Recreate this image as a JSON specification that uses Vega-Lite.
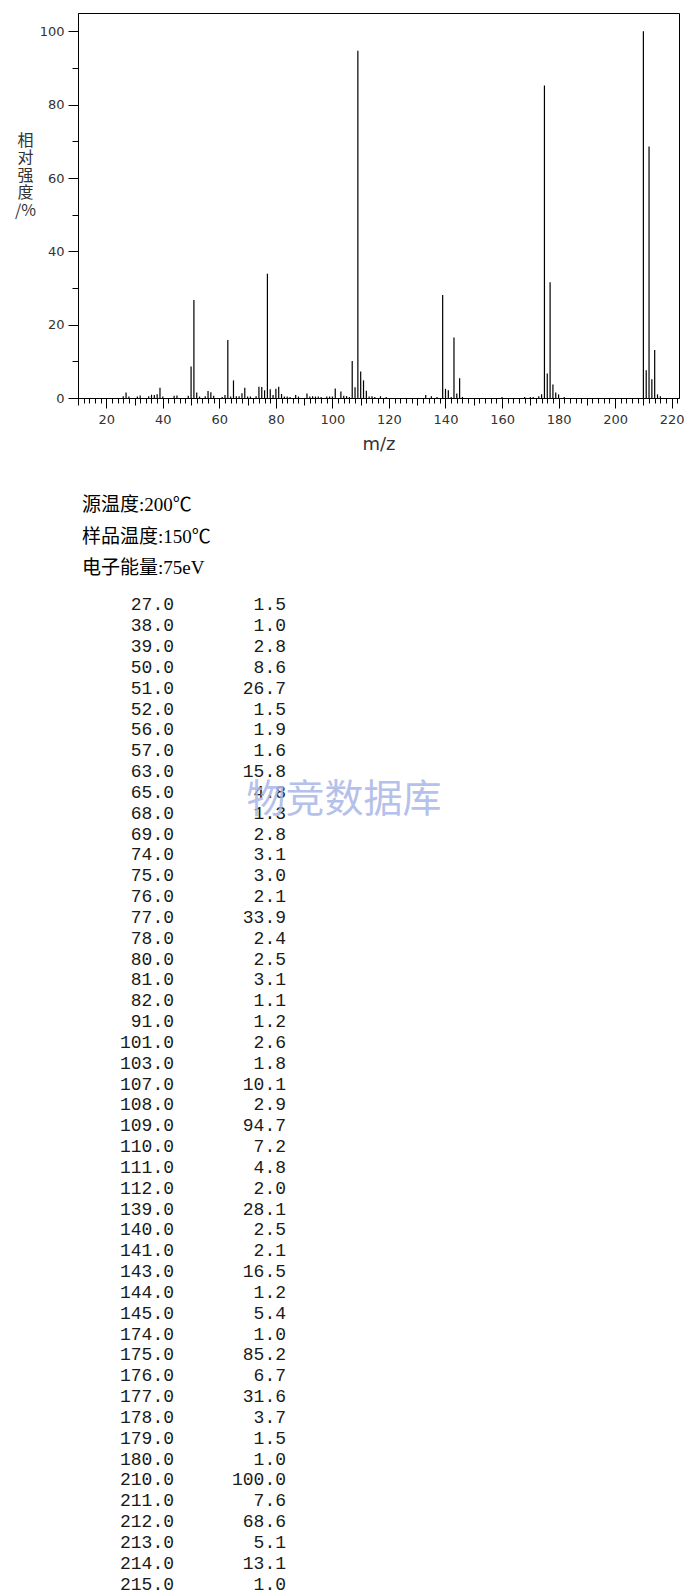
{
  "$schema": "https://vega.github.io/schema/vega-lite/v6.json",
  "background": "#ffffff",
  "padding": {"left": 13, "top": 12, "right": 0, "bottom": 0},
  "spacing": 42,
  "datasets": {
    "peaks": [
      {"mz": 26, "intensity": 0.5}, {"mz": 27, "intensity": 1.5}, {"mz": 28, "intensity": 0.4},
      {"mz": 31, "intensity": 0.4}, {"mz": 32, "intensity": 0.7}, {"mz": 35, "intensity": 0.5},
      {"mz": 36, "intensity": 0.9}, {"mz": 37, "intensity": 0.8}, {"mz": 38, "intensity": 1.0},
      {"mz": 39, "intensity": 2.8}, {"mz": 40, "intensity": 0.4}, {"mz": 44, "intensity": 0.6},
      {"mz": 45, "intensity": 0.7}, {"mz": 49, "intensity": 0.6}, {"mz": 50, "intensity": 8.6},
      {"mz": 51, "intensity": 26.7}, {"mz": 52, "intensity": 1.5}, {"mz": 53, "intensity": 0.4},
      {"mz": 55, "intensity": 0.5}, {"mz": 56, "intensity": 1.9}, {"mz": 57, "intensity": 1.6},
      {"mz": 58, "intensity": 0.6}, {"mz": 61, "intensity": 0.3}, {"mz": 62, "intensity": 0.8},
      {"mz": 63, "intensity": 15.8}, {"mz": 64, "intensity": 0.4}, {"mz": 65, "intensity": 4.8},
      {"mz": 66, "intensity": 0.5}, {"mz": 67, "intensity": 0.5}, {"mz": 68, "intensity": 1.3},
      {"mz": 69, "intensity": 2.8}, {"mz": 70, "intensity": 0.4}, {"mz": 71, "intensity": 0.4},
      {"mz": 73, "intensity": 0.5}, {"mz": 74, "intensity": 3.1}, {"mz": 75, "intensity": 3.0},
      {"mz": 76, "intensity": 2.1}, {"mz": 77, "intensity": 33.9}, {"mz": 78, "intensity": 2.4},
      {"mz": 79, "intensity": 0.8}, {"mz": 80, "intensity": 2.5}, {"mz": 81, "intensity": 3.1},
      {"mz": 82, "intensity": 1.1}, {"mz": 83, "intensity": 0.4}, {"mz": 84, "intensity": 0.4},
      {"mz": 85, "intensity": 0.3}, {"mz": 87, "intensity": 0.8}, {"mz": 88, "intensity": 0.4},
      {"mz": 91, "intensity": 1.2}, {"mz": 92, "intensity": 0.4}, {"mz": 93, "intensity": 0.5},
      {"mz": 94, "intensity": 0.4}, {"mz": 95, "intensity": 0.4}, {"mz": 96, "intensity": 0.3},
      {"mz": 98, "intensity": 0.4}, {"mz": 99, "intensity": 0.4}, {"mz": 100, "intensity": 0.4},
      {"mz": 101, "intensity": 2.6}, {"mz": 103, "intensity": 1.8}, {"mz": 104, "intensity": 0.6},
      {"mz": 105, "intensity": 0.5}, {"mz": 106, "intensity": 0.3}, {"mz": 107, "intensity": 10.1},
      {"mz": 108, "intensity": 2.9}, {"mz": 109, "intensity": 94.7}, {"mz": 110, "intensity": 7.2},
      {"mz": 111, "intensity": 4.8}, {"mz": 112, "intensity": 2.0}, {"mz": 113, "intensity": 0.4},
      {"mz": 114, "intensity": 0.5}, {"mz": 115, "intensity": 0.3}, {"mz": 117, "intensity": 0.5},
      {"mz": 119, "intensity": 0.3}, {"mz": 133, "intensity": 0.8}, {"mz": 135, "intensity": 0.5},
      {"mz": 137, "intensity": 0.3}, {"mz": 139, "intensity": 28.1}, {"mz": 140, "intensity": 2.5},
      {"mz": 141, "intensity": 2.1}, {"mz": 142, "intensity": 0.3}, {"mz": 143, "intensity": 16.5},
      {"mz": 144, "intensity": 1.2}, {"mz": 145, "intensity": 5.4}, {"mz": 146, "intensity": 0.3},
      {"mz": 160, "intensity": 0.3}, {"mz": 168, "intensity": 0.3}, {"mz": 170, "intensity": 0.3},
      {"mz": 171, "intensity": 0.3}, {"mz": 173, "intensity": 0.5}, {"mz": 174, "intensity": 1.0},
      {"mz": 175, "intensity": 85.2}, {"mz": 176, "intensity": 6.7}, {"mz": 177, "intensity": 31.6},
      {"mz": 178, "intensity": 3.7}, {"mz": 179, "intensity": 1.5}, {"mz": 180, "intensity": 1.0},
      {"mz": 182, "intensity": 0.3}, {"mz": 210, "intensity": 100.0}, {"mz": 211, "intensity": 7.6},
      {"mz": 212, "intensity": 68.6}, {"mz": 213, "intensity": 5.1}, {"mz": 214, "intensity": 13.1},
      {"mz": 215, "intensity": 1.0}, {"mz": 216, "intensity": 0.5}
    ],
    "watermark": [{"label": "物竞数据库", "mz": 65}]
  },
  "vconcat": [
    {
      "width": 601,
      "height": 385,
      "data": {"name": "peaks"},
      "layer": [
        {
          "mark": {"type": "rule", "color": "#000", "strokeWidth": 1.2},
          "encoding": {
            "x": {
              "field": "mz", "type": "quantitative",
              "scale": {"domain": [10, 222.6], "nice": false, "zero": false},
              "axis": {
                "orient": "bottom",
                "values": [20, 40, 60, 80, 100, 120, 140, 160, 180, 200, 220],
                "tickSize": 10, "labelPadding": 5, "domain": true,
                "title": "m/z", "titlePadding": 9, "titleFontSize": 18,
                "titleFont": "DejaVu Sans", "titleColor": "#333", "titleFontWeight": "normal"
              }
            },
            "y": {
              "field": "intensity", "type": "quantitative",
              "scale": {"domain": [0, 105], "nice": false},
              "axis": {
                "orient": "left",
                "values": [0, 20, 40, 60, 80, 100],
                "tickSize": 10, "labelPadding": 4, "domain": true,
                "title": ["相", "对", "强", "度", "/%"],
                "titleAngle": 0, "titleAlign": "center", "titleBaseline": "top",
                "titleX": -53, "titleY": 119, "titleLineHeight": 17.5,
                "titleFont": "Noto Sans CJK SC", "titleFontSize": 16,
                "titleColor": "#333", "titleFontWeight": "normal"
              }
            },
            "y2": {"datum": 0}
          }
        },
        {
          "mark": {"type": "rule", "opacity": 0},
          "encoding": {
            "x": {
              "field": "mz", "type": "quantitative",
              "axis": {
                "orient": "bottom",
                "values": [10,12,14,16,18,20,22,24,26,28,30,32,34,36,38,40,42,44,46,48,50,52,54,56,58,60,62,64,66,68,70,72,74,76,78,80,82,84,86,88,90,92,94,96,98,100,102,104,106,108,110,112,114,116,118,120,122,124,126,128,130,132,134,136,138,140,142,144,146,148,150,152,154,156,158,160,162,164,166,168,170,172,174,176,178,180,182,184,186,188,190,192,194,196,198,200,202,204,206,208,210,212,214,216,218,220,222],
                "tickSize": 5, "labels": false, "domain": false, "title": null
              }
            },
            "y": {
              "field": "intensity", "type": "quantitative",
              "axis": {
                "orient": "left",
                "values": [10, 30, 50, 70, 90],
                "tickSize": 6, "labels": false, "domain": false, "title": null
              }
            },
            "y2": {"datum": 0}
          }
        },
        {
          "mark": {"type": "rule", "opacity": 0},
          "encoding": {
            "x": {
              "field": "mz", "type": "quantitative",
              "axis": {
                "orient": "bottom",
                "values": [10, 30, 50, 70, 90, 110, 130, 150, 170, 190, 210],
                "tickSize": 7, "labels": false, "domain": false, "title": null
              }
            },
            "y": {"field": "intensity", "type": "quantitative", "axis": null},
            "y2": {"datum": 0}
          }
        }
      ],
      "resolve": {"axis": {"x": "independent", "y": "independent"}}
    },
    {
      "width": 196,
      "height": 1000,
      "view": {"stroke": null},
      "title": {
        "text": ["源温度:200℃", "样品温度:150℃", "电子能量:75eV"],
        "anchor": "start",
        "font": "'Liberation Serif', 'Noto Sans CJK SC'",
        "fontSize": 19,
        "fontWeight": "normal",
        "lineHeight": 31.5,
        "color": "#000",
        "offset": 17,
        "dx": 4
      },
      "layer": [
        {
          "data": {"name": "peaks"},
          "transform": [{"filter": "datum.intensity >= 1"}],
          "mark": {"type": "text", "align": "right", "baseline": "middle", "dx": -2, "font": "Liberation Mono", "fontSize": 18, "color": "#1a1a1a"},
          "encoding": {
            "y": {"field": "mz", "type": "ordinal", "axis": null},
            "text": {"field": "mz", "type": "quantitative", "format": ".1f"}
          }
        },
        {
          "data": {"name": "peaks"},
          "transform": [{"filter": "datum.intensity >= 1"}],
          "mark": {"type": "text", "align": "right", "baseline": "middle", "dx": 110, "font": "Liberation Mono", "fontSize": 18, "color": "#1a1a1a"},
          "encoding": {
            "y": {"field": "mz", "type": "ordinal", "axis": null},
            "text": {"field": "intensity", "type": "quantitative", "format": ".1f"}
          }
        },
        {
          "data": {"name": "watermark"},
          "mark": {"type": "text", "align": "center", "baseline": "middle", "dx": 168, "dy": 7, "font": "Noto Sans CJK SC", "fontSize": 39, "color": "#a9b6e8", "opacity": 0.85},
          "encoding": {
            "y": {"field": "mz", "type": "ordinal", "axis": null},
            "text": {"field": "label"}
          }
        }
      ]
    }
  ],
  "config": {
    "view": {"stroke": "#000", "strokeWidth": 1},
    "axis": {
      "grid": false,
      "domainColor": "#000",
      "tickColor": "#000",
      "labelFont": "DejaVu Sans",
      "labelFontSize": 13,
      "labelColor": "#333"
    }
  }
}
